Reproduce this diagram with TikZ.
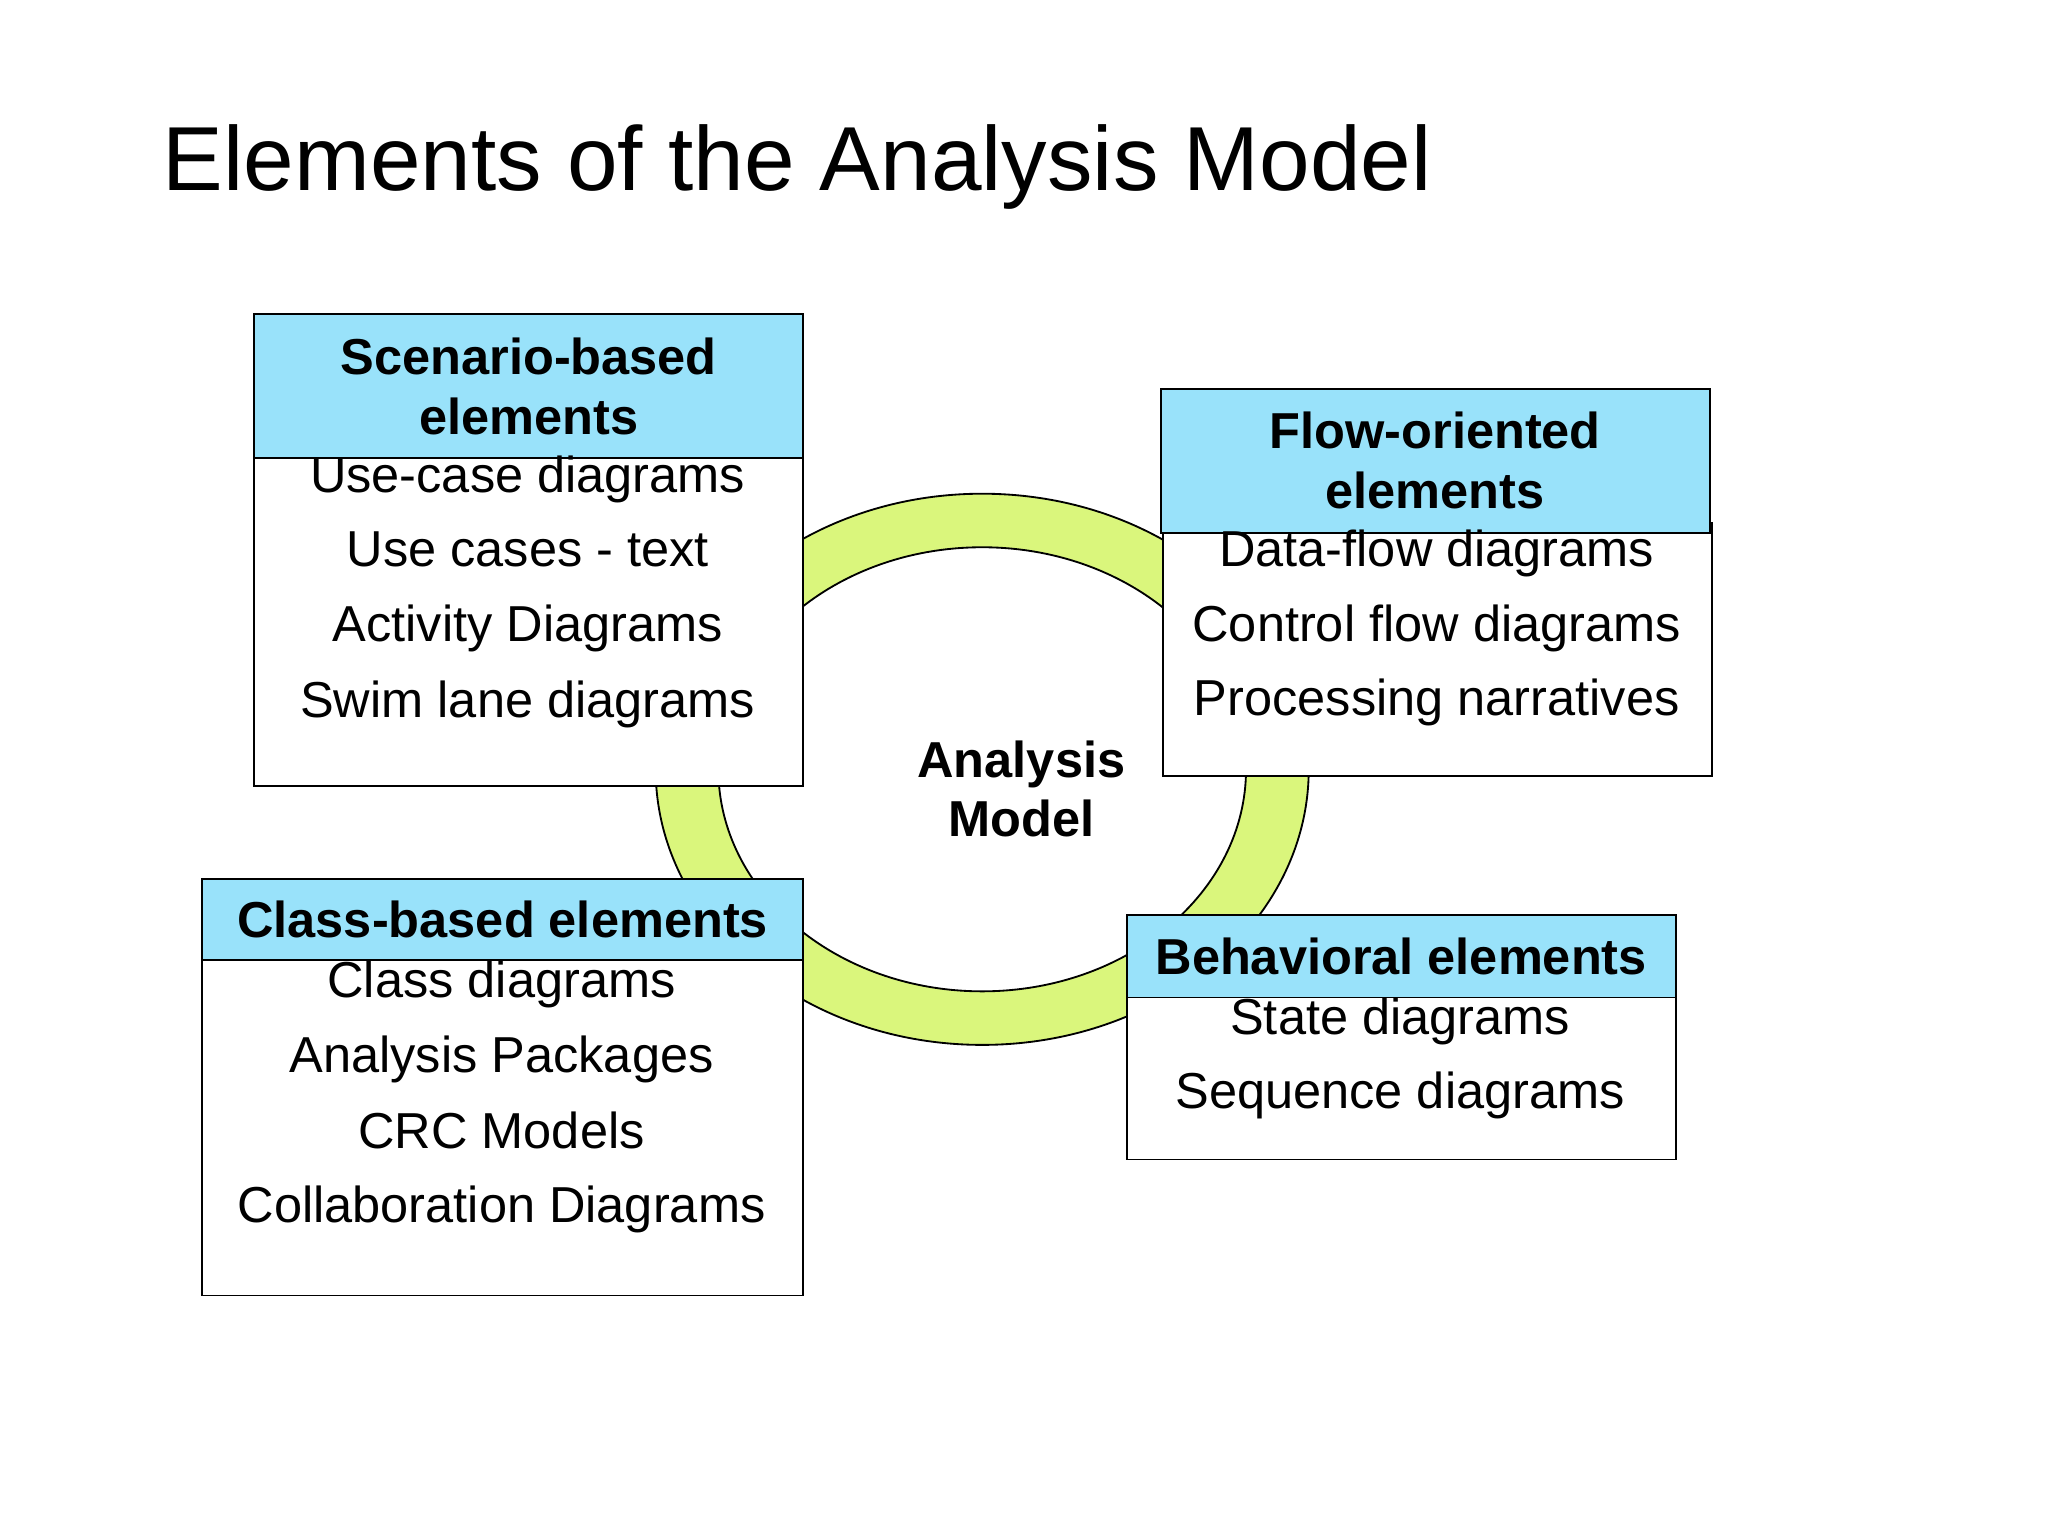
\documentclass[tikz,border=0pt]{standalone}
\usepackage{fontspec}
\setmainfont{Liberation Sans}
\usetikzlibrary{positioning}
\definecolor{headcyan}{RGB}{153,226,250}
\definecolor{ringgreen}{RGB}{218,246,124}
\tikzset{
  % header of an element box
  head/.style = {
    draw = black,
    fill = headcyan,
    font = \fontsize{11pt}{13pt}\selectfont\bfseries,
    align = center,
    inner sep = 0
  },
  % body of an element box
  body/.style = {
    draw = black,
    fill = white,
    inner sep = 0
  },
  item/.style = {
    font = \fontsize{11pt}{13pt}\selectfont,
    anchor = base,
    inner sep = 0
  }
}
\begin{document}
\begin{tikzpicture}[x=0.01cm, y=-0.01cm]
    \useasboundingbox (0,0) rectangle (1568,1176);
    \node[anchor=west, font=\fontsize{19.8pt}{24pt}\selectfont, inner sep=0] (title) at (124,128) {Elements of the Analysis Model};

    % ring
    \fill[ringgreen, draw=black, even odd rule] (752,589) ellipse [x radius=250, y radius=211]
      (752,589) ellipse [x radius=202, y radius=170];
    \node[font=\fontsize{11pt}{13pt}\selectfont\bfseries, align=center] (model) at (782,604) {Analysis\\Model};

    % scenario-based elements
    \node[body, minimum width=4.2cm, minimum height=2.51cm, anchor=north west] (scen-body) at (194,350) {};
    \node[head, minimum width=4.2cm, minimum height=1.1cm, anchor=north west] (scen) at (194,240) {Scenario-based\\elements};
    \node[item] (scen-1) at (404,377) {Use-case diagrams};
    \node[item] (scen-2) at (404,434) {Use cases - text};
    \node[item] (scen-3) at (404,491) {Activity Diagrams};
    \node[item] (scen-4) at (404,549) {Swim lane diagrams};

    % flow-oriented elements
    \node[body, minimum width=4.2cm, minimum height=1.93cm, anchor=north west] (flow-body) at (890,400) {};
    \node[head, minimum width=4.2cm, minimum height=1.1cm, anchor=north west] (flow) at (888,297) {Flow-oriented\\elements};
    \node[item] (flow-1) at (1100,434) {Data-flow diagrams};
    \node[item] (flow-2) at (1100,491) {Control flow diagrams};
    \node[item] (flow-3) at (1100,548) {Processing narratives};

    % class-based elements
    \node[body, minimum width=4.6cm, minimum height=2.57cm, anchor=north west] (class-body) at (154,734) {};
    \node[head, minimum width=4.6cm, minimum height=0.62cm, anchor=north west] (class) at (154,672) {Class-based elements};
    \node[item] (class-1) at (384,764) {Class diagrams};
    \node[item] (class-2) at (384,821) {Analysis Packages};
    \node[item] (class-3) at (384,879) {CRC Models};
    \node[item] (class-4) at (384,936) {Collaboration Diagrams};

    % behavioral elements
    \node[body, minimum width=4.2cm, minimum height=1.24cm, anchor=north west] (beh-body) at (862,763) {};
    \node[head, minimum width=4.2cm, minimum height=0.63cm, anchor=north west] (beh) at (862,700) {Behavioral elements};
    \node[item] (beh-1) at (1072,792) {State diagrams};
    \node[item] (beh-2) at (1072,849) {Sequence diagrams};
\end{tikzpicture}
\end{document}
